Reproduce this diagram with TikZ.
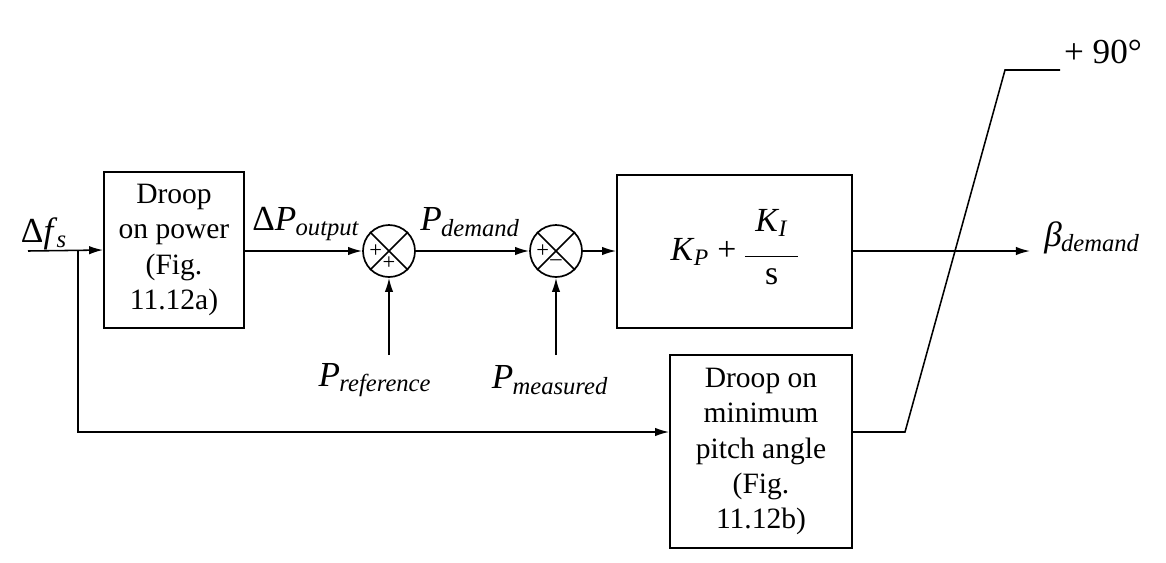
\documentclass[tikz,border=0pt]{standalone}
\usepackage{fontspec}
\setmainfont{Liberation Serif}
\usetikzlibrary{arrows.meta}
\newcommand{\lb}[2]{\textit{#1}\textsubscript{\kern-0.5pt\textit{#2}}}
\begin{document}
\begin{tikzpicture}[x=0.025cm,y=-0.025cm,
  every node/.style={font=\fontsize{21}{25}\selectfont},
  blk/.style={draw,line width=1.2pt,inner sep=0pt,align=center},
  sumc/.style={draw,circle,line width=1.2pt,minimum size=52*0.025cm,inner sep=0pt},
  ar/.style={-{Latex[length=10pt,width=6pt]},line width=1.1pt},
  ln/.style={line width=1.1pt},
  sgn/.style={font=\fontsize{16}{16}\selectfont,inner sep=0pt},
  lab/.style={font=\fontsize{25}{25}\selectfont}]
\useasboundingbox (0,0) rectangle (1166,562);
% blocks
\node[blk,minimum width=140*0.025cm,minimum height=156*0.025cm] (b1) at (174,250)
  {Droop\\on power\\(Fig.\\11.12a)};
\node[blk,minimum width=235*0.025cm,minimum height=153*0.025cm] (b2) at (734.5,251.5)
  {\fontsize{24}{24}\selectfont\lb{K}{P} + \begin{tabular}{@{}c@{}}\lb{K}{I}\\[-6pt]\rule{38pt}{0.8pt}\\[-4pt]s\end{tabular}};
\node[blk,minimum width=182*0.025cm,minimum height=193*0.025cm] (b3) at (761,451.5)
  {Droop on\\minimum\\pitch angle\\(Fig.\\11.12b)};
% summing junctions
\node[sumc] (s1) at (389,251) {};
\node[sumc] (s2) at (556,251) {};
\foreach \s in {s1,s2}{
  \draw[ln] (\s.north west) -- (\s.south east);
  \draw[ln] (\s.north east) -- (\s.south west);
  \node[sgn] at ([xshift=-0.33cm]\s.center) {+};
}
\node[sgn] at ([yshift=-0.3cm]s1.center) {+};
\node[sgn] at ([yshift=-0.3cm]s2.center) {\textendash};
% coordinates
\coordinate (in) at (28,251);
\coordinate (br) at (78,251);
\coordinate (bc) at (78,432);
\coordinate (pr) at (389,355);
\coordinate (pm) at (556,355);
\coordinate (out) at (1030,251);
\coordinate (k1) at (905,432);
\coordinate (k2) at (1005,70);
\coordinate (k3) at (1060,70);
% connectors
\draw[ar] (in) -- (b1.west);
\draw[ar] (br) -- (bc) -- (b3.west|-bc);
\draw[ar] (b1.east|-s1) -- (s1.west);
\draw[ar] (s1.east) -- (s2.west);
\draw[ar] (s2.east) -- (b2.west|-s2);
\draw[ar] (b2.east|-out) -- (out);
\draw[ar] (pr) -- (s1.south);
\draw[ar] (pm) -- (s2.south);
\draw[ln] (b3.east|-k1) -- (k1) -- (k2) -- (k3);
% labels
\node[lab] at (44,234) {Δ\lb{f}{s}};
\node[lab] at (306,224) {Δ\lb{P}{output}};
\node[lab] at (470,222) {\lb{P}{demand}};
\node[lab] at (375,380) {\lb{P}{reference}};
\node[lab] at (550,380) {\lb{P}{measured}};
\node[lab] at (1092,238) {\lb{β}{demand}};
\node[lab] at (1103,52) {+ 90°};
\end{tikzpicture}
\end{document}
